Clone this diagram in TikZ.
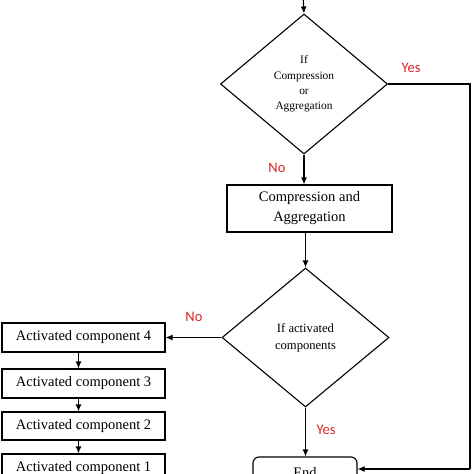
\documentclass[tikz,border=0pt]{standalone}
\usepackage{fontspec}
\setmainfont{Liberation Serif}
\newfontfamily\lblfont{Carlito}
\usetikzlibrary{shapes.geometric,arrows.meta}
\definecolor{lblred}{RGB}{215,35,35}
\tikzset{
  conn/.style={line width=1.1pt,-{Latex[length=7pt,width=6pt]}},
  plain/.style={line width=1.1pt},
  procbox/.style={draw,line width=1.1pt,rectangle,inner sep=0pt,align=center,font=\fontsize{14.5}{20}\selectfont},
  decision/.style={draw,line width=1.1pt,diamond,inner sep=0pt,align=center},
  endbox/.style={draw,line width=1.1pt,rectangle,rounded corners=6pt,inner sep=0pt,font=\fontsize{14.5}{16}\selectfont},
  lbl/.style={text=lblred,font=\lblfont\fontsize{14.5}{16}\selectfont,inner sep=0pt}
}
\begin{document}
\begin{tikzpicture}[x=1pt,y=-1pt]
\useasboundingbox (0,0) rectangle (474,474);
\clip (0,0) rectangle (474,474);
% nodes
\node[decision,minimum width=167pt,minimum height=140pt,font=\fontsize{11.4}{15.3}\selectfont] (d1) at (304,84) {If\\Compression\\or\\Aggregation};
\node[procbox,minimum width=165pt,minimum height=47pt] (comp) at (309.5,208.5) {Compression and\\Aggregation};
\node[decision,minimum width=167pt,minimum height=139pt,font=\fontsize{12.6}{17}\selectfont] (d2) at (305.5,337.5) {If activated\\components};
\node[procbox,minimum width=163pt,minimum height=29pt] (b4) at (83.5,337.5) {Activated component 4};
\node[procbox,minimum width=163pt,minimum height=29pt] (b3) at (83.5,383.5) {Activated component 3};
\node[procbox,minimum width=163pt,minimum height=28pt] (b2) at (83.5,426) {Activated component 2};
\node[procbox,minimum width=163pt,minimum height=29pt] (b1) at (83.5,468.5) {Activated component 1};
\node[endbox,minimum width=104pt,minimum height=32pt] (endn) at (305,473) {End};
\coordinate (start) at (303,-5);
\coordinate (yc) at (470,469);
% labels
\node[lbl] (yes1) at (411,68) {Yes};
\node[lbl] (no1) at (277,168) {No};
\node[lbl] (no2) at (194,317) {No};
\node[lbl] (yes2) at (326,430) {Yes};
% connectors
\draw[conn] (start) -- (d1.north);
\draw[conn] (d1.south) -- (comp.north -| d1.south);
\draw[plain] (d1.east) -| (yc);
\draw[conn] (yc) -- (yc -| endn.east);
\draw[conn] (comp.south -| d2.north) -- (d2.north);
\draw[conn] (d2.west) -- (d2.west -| b4.east);
\draw[conn] (d2.south) -- (endn.north -| d2.south);
\draw[conn] ([xshift=-5pt]b4.south) -- ([xshift=-5pt]b3.north);
\draw[conn] ([xshift=-5pt]b3.south) -- ([xshift=-5pt]b2.north);
\draw[conn] ([xshift=-5pt]b2.south) -- ([xshift=-5pt]b1.north);
\end{tikzpicture}
\end{document}
